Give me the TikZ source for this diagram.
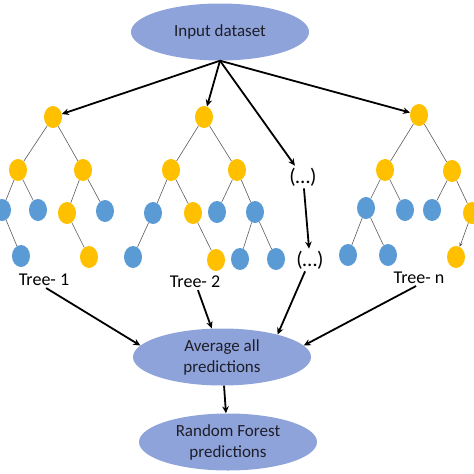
\documentclass[tikz,border=0pt]{standalone}
\usepackage{fontspec}
\setmainfont{Carlito}
\usetikzlibrary{
    arrows.meta,
    shapes.geometric,
    positioning
}
\definecolor{treeyellow}{RGB}{255,192,0}
\definecolor{treeblue}{RGB}{91,155,213}
\definecolor{ovalblue}{RGB}{143,163,219}
\definecolor{branchgray}{RGB}{90,90,90}

\begin{document}
\begin{tikzpicture}[x=1pt,y=-1pt,
    yel/.style={ellipse,fill=treeyellow,minimum width=18pt,minimum height=22pt,inner sep=0pt},
    blu/.style={yel,fill=treeblue},
    oval/.style={ellipse,fill=ovalblue,minimum width=178pt,minimum height=57pt,inner sep=0pt,
        align=center,font=\fontsize{17}{21}\selectfont,text={rgb,255:red,30;green,30;blue,40}},
    lab/.style={font=\fontsize{18}{20}\selectfont,inner sep=2pt},
    dots/.style={font=\fontsize{21}{22}\selectfont,inner sep=2pt},
    branch/.style={draw=branchgray,line width=0.6pt,-{Stealth[length=4pt,width=3.5pt]}},
    flow/.style={line width=1.8pt,-{Stealth[length=7pt,width=6.5pt]}}]
                        \useasboundingbox (0,0) rectangle (474,474);
                        \node[oval] (in) at (220,32) {Input dataset};
                        \node[oval] (avg) at (222,357) {Average all\\predictions};
                        \node[oval] (rf) at (228,442) {Random Forest\\predictions};
                        \node[yel] (a) at (53,117) {};
                        \node[yel] (al) at (18,170) {};
                        \node[yel] (ar) at (83,170) {};
                        \node[blu] (all) at (2,210) {};
                        \node[blu] (alr) at (38,210) {};
                        \node[yel] (arl) at (67,213) {};
                        \node[blu] (arr) at (105,211) {};
                        \node[blu] (alll) at (21,256) {};
                        \node[yel] (arll) at (89,257) {};
                        \node[yel] (b) at (204,117) {};
                        \node[yel] (bl) at (171,170) {};
                        \node[yel] (br) at (237,170) {};
                        \node[blu] (bll) at (153,213) {};
                        \node[yel] (blr) at (193,213) {};
                        \node[blu] (brl) at (217,212) {};
                        \node[blu] (brr) at (255,212) {};
                        \node[blu] (blll) at (133,257) {};
                        \node[yel] (blrr) at (216,260) {};
                        \node[blu] (brrl) at (240,259) {};
                        \node[blu] (brrr) at (276,259) {};
                        \node[yel] (c) at (419,115) {};
                        \node[yel] (cl) at (385,170) {};
                        \node[yel] (cr) at (452,171) {};
                        \node[blu] (cll) at (366,208) {};
                        \node[blu] (clr) at (405,210) {};
                        \node[blu] (crl) at (432,210) {};
                        \node[yel] (crr) at (472,213) {};
                        \node[blu] (clll) at (348,255) {};
                        \node[blu] (cllr) at (388,255) {};
                        \node[yel] (crrl) at (456,257) {};
                        \node[dots] (dots1) at (303,177) {(\dots)};
                        \node[dots] (dots2) at (310,260) {(\dots)};
                        \node[lab] (lab1) at (44,280) {Tree- 1};
                        \node[lab] (lab2) at (195,282) {Tree- 2};
                        \node[lab] (labn) at (419,278) {Tree- n};
                        \draw[branch]
                        (a) -- (al) (a) -- (ar)
                        (al) -- (all) (al) -- (alr)
                        (ar) -- (arl) (ar) -- (arr)
                        (all) -- (alll) (arl) -- (arll)
                        (b) -- (bl) (b) -- (br)
                        (bl) -- (bll) (bl) -- (blr)
                        (br) -- (brl) (br) -- (brr)
                        (bll) -- (blll) (blr) -- (blrr)
                        (brr) -- (brrl) (brr) -- (brrr)
                        (c) -- (cl) (c) -- (cr)
                        (cl) -- (cll) (cl) -- (clr)
                        (cr) -- (crl) (cr) -- (crr)
                        (cll) -- (clll) (cll) -- (cllr)
                        (crr) -- (crrl);
                        \draw[flow] (in.south) -- (a);
                        \draw[flow] (in.south) -- (b);
                        \draw[flow] (in.south) -- (dots1);
                        \draw[flow] (in.south) -- (c);
                        \draw[flow] (dots1) -- (dots2);
                        \draw[flow] (lab1.-75) -- (avg.172);
                        \draw[flow] (lab2) -- (avg);
                        \draw[flow] (dots2) -- (avg.22);
                        \draw[flow] (labn.-110) -- (avg.8);
                        \draw[flow] (avg) -- (rf);
                    \end{tikzpicture}
\end{document}
